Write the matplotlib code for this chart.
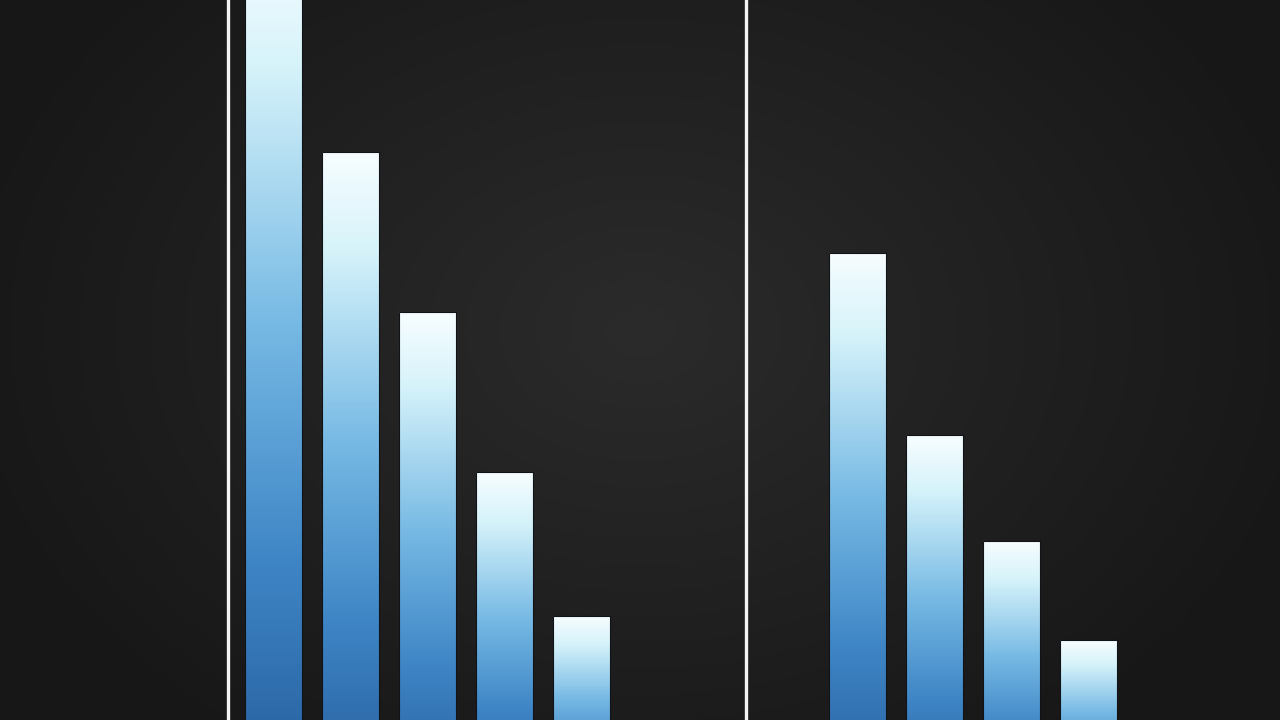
import numpy as np
import matplotlib
matplotlib.use("Agg")
import matplotlib.pyplot as plt
from matplotlib.colors import LinearSegmentedColormap

# ---- data ----
left_values = [108, 81, 61, 41, 23]
right_values = [68.4, 45.6, 32.4, 20.0]
y_min, y_max = 10, 100

# ---- layout (pixel-ish units, 1 unit = 1 px) ----
W, H = 1280, 720
left_start, right_start, step, bar_w = 273.5, 857.5, 77, 57
sep_lines = [228, 746]

fig = plt.figure(figsize=(12.8, 7.2), dpi=100)

# background radial gradient
bg = fig.add_axes([0, 0, 1, 1])
yy, xx = np.mgrid[0:H, 0:W]
r = np.sqrt(((xx - 640) / 700.0) ** 2 + ((yy - 330) / 520.0) ** 2)
r = np.clip(r, 0, 1)
c_center = np.array([0x2b, 0x2b, 0x2b]) / 255
c_edge = np.array([0x17, 0x17, 0x17]) / 255
img = c_center[None, None, :] * (1 - r[..., None]) + c_edge[None, None, :] * r[..., None]
bg.imshow(img, extent=[0, W, 0, H], aspect="auto")
bg.axis("off")

ax = fig.add_axes([0, 0, 1, 1])
ax.set_facecolor("none")
ax.set_xlim(0, W)
ax.set_ylim(y_min, y_max)
ax.axis("off")

cmap = LinearSegmentedColormap.from_list(
    "bar",
    [(0.0, "#f7fdff"), (0.15, "#d6f3fa"), (0.45, "#76b9e4"),
     (0.72, "#3f86c6"), (1.0, "#245b9b")])

grad = np.linspace(0, 1, 512)[:, None]

def draw_group(values, start):
    xs = [start + step * i for i in range(len(values))]
    bars = ax.bar(xs, values, width=bar_w, bottom=0, color="none",
                  edgecolor="#101418", linewidth=0.8, zorder=3)
    for rect, v in zip(bars, values):
        x0 = rect.get_x()
        im = ax.imshow(grad, cmap=cmap, extent=[x0, x0 + bar_w, 0, v],
                       aspect="auto", origin="upper", zorder=2,
                       interpolation="bilinear")
        im.set_clip_path(rect)

draw_group(left_values, left_start)
draw_group(right_values, right_start)

for x in sep_lines:
    ax.axvline(x, color="#f4f4f4", linewidth=2.4, zorder=4)

ax.set_xlim(0, W)
ax.set_ylim(y_min, y_max)

fig.savefig("out.png", dpi=100)
